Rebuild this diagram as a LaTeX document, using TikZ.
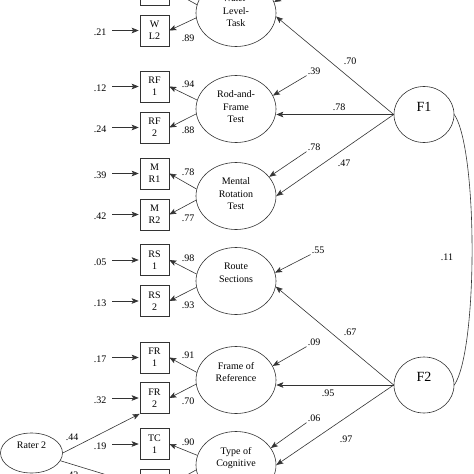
\documentclass[tikz,border=0pt]{standalone}
\usepackage{fontspec}
\setmainfont{Liberation Serif}
\usetikzlibrary{arrows.meta,shapes.geometric}
\begin{document}
\begin{tikzpicture}[x=1pt,y=-1pt,
  every node/.style={font=\fontsize{10}{12.5}\selectfont, text=black},
  ind/.style={draw=black!80, line width=0.6pt, rectangle, minimum width=29pt, minimum height=31pt, inner sep=0pt, align=center, font=\fontsize{10}{12}\selectfont},
  lat/.style={draw=black!80, line width=0.6pt, ellipse, minimum width=80pt, minimum height=67pt, inner sep=0pt, align=center},
  lat3/.style={lat, text depth=4pt},
  fac/.style={draw=black!80, line width=0.6pt, ellipse, minimum width=60pt, minimum height=56pt, inner sep=0pt, align=center, font=\fontsize{14}{12}\selectfont},
  num/.style={inner sep=1pt},
  arr/.style={-{Stealth[length=7pt,width=5.5pt,inset=1.5pt]}, line width=0.6pt, draw=black!80},
  conn/.style={line width=0.6pt, draw=black!80},
]
\useasboundingbox (0,0) rectangle (474,474);
\clip (0,0) rectangle (474,474);

% observed indicators
\node[ind] (wl1) at (154.5,-10.5) {W\\L1};
\node[ind] (wl2) at (154.5,30.5) {W\\L2};
\node[ind] (rf1) at (154.5,86.5) {RF\\1};
\node[ind] (rf2) at (154.5,127.5) {RF\\2};
\node[ind] (mr1) at (154.5,173.5) {M\\R1};
\node[ind] (mr2) at (154.5,214.5) {M\\R2};
\node[ind] (rs1) at (154.5,260) {RS\\1};
\node[ind] (rs2) at (154.5,301) {RS\\2};
\node[ind] (fr1) at (154.5,357.5) {FR\\1};
\node[ind] (fr2) at (154.5,398) {FR\\2};
\node[ind] (tc1) at (154.5,444) {TC\\1};
\node[ind] (tc2) at (154.5,485) {TC\\2};

% error terms
\node[num] (ewl2) at (100,32.5) {.21};
\node[num] (erf1) at (100,88.5) {.12};
\node[num] (erf2) at (100,129.5) {.24};
\node[num] (emr1) at (100,175.5) {.39};
\node[num] (emr2) at (100,216.5) {.42};
\node[num] (ers1) at (100,262) {.05};
\node[num] (ers2) at (100,303) {.13};
\node[num] (efr1) at (100,359.5) {.17};
\node[num] (efr2) at (100,400) {.32};
\node[num] (etc1) at (100,446) {.19};
\foreach \b in {wl2,rf1,rf2,mr1,mr2,rs1,rs2,fr1,fr2,tc1}
  \draw[arr, shorten <=5pt, shorten >=1pt] (e\b.east |- \b.west) -- (\b.west);

% first-order latent variables
\node[lat3] (lt)  at (236,13)  {Water-\\Level-\\Task};
\node[lat3] (rod) at (236,109) {Rod-and-\\Frame\\Test};
\node[lat3] (mrt) at (236,196) {Mental\\Rotation\\Test};
\node[lat] (rte) at (236,281) {Route\\Sections\\\strut};
\node[lat] (fre) at (236,380) {Frame of\\Reference\\\strut};
\node[lat] (toc) at (236,465) {Type of\\Cognitive\\\strut};

% loadings
\draw[arr] (lt.168) -- (wl1.east);
\draw[arr] (lt.187) -- (wl2.east);
\draw[arr] (rod.167) -- (rf1.east);
\draw[arr] (rod.187) -- (rf2.east);
\draw[arr] (mrt.170) -- (mr1.east);
\draw[arr] (mrt.186) -- (mr2.east);
\draw[arr] (rte.170) -- (rs1.east);
\draw[arr] (rte.189) -- (rs2.east);
\draw[arr] (fre.169) -- (fr1.east);
\draw[arr] (fre.186) -- (fr2.east);
\draw[arr] (toc.166) -- (tc1.east);
\draw[arr] (toc.187) -- (tc2.east);

\node[num] (lwl2) at (188,38)  {.89};
\node[num] (lrf1) at (188,84)  {.94};
\node[num] (lrf2) at (188,130) {.88};
\node[num] (lmr1) at (188,172) {.78};
\node[num] (lmr2) at (188,218) {.77};
\node[num] (lrs1) at (188,258) {.98};
\node[num] (lrs2) at (188,305) {.93};
\node[num] (lfr1) at (188,355) {.91};
\node[num] (lfr2) at (188,401) {.70};
\node[num] (ltc1) at (188,442) {.90};

% second-order factors
\node[fac] (F1) at (424,114.5) {F1\\\strut};
\node[fac] (F2) at (424,385) {F2\\\strut};

\draw[arr] (F1.west) -- (lt.-5);
\draw[arr] (F1.west) -- (rod.east |- F1.west);
\draw[arr] (F1.west) -- (mrt.east);
\draw[arr] (F2.west) -- (rte.-8);
\draw[arr] (F2.west) -- (fre.east |- F2.west);
\draw[arr] (F2.west) -- (toc.east);

\node[num] (s1) at (350,61)  {.70};
\node[num] (s2) at (339,107) {.78};
\node[num] (s3) at (344,163) {.47};
\node[num] (s4) at (350,332) {.67};
\node[num] (s5) at (328,393) {.95};
\node[num] (s6) at (346,439) {.97};

% disturbances
\coordinate (dlt) at (310,-18);
\draw[arr] (dlt) -- (lt.16);
\node[num] (drod) at (314,71)  {.39};
\node[num] (dmrt) at (314,147) {.78};
\node[num] (drte) at (318,250) {.55};
\node[num] (dfre) at (314,342) {.09};
\node[num] (dtoc) at (314,418) {.06};
\draw[arr] (drod.south west) -- (rod.20);
\draw[arr] (dmrt.south west) -- (mrt.30);
\draw[arr] (drte.south west) -- (rte.12);
\draw[arr] (dfre.south west) -- (fre.21);
\draw[arr] (dtoc.south west) -- (toc.26);

% factor correlation
\draw[conn] (F1.east) .. controls (478,150) and (478,350) .. (F2.east);
\node[num] (r12) at (447,257) {.11};

% rater
\node[lat, minimum width=62pt, minimum height=40pt] (r2) at (31.5,453) {Rater 2\\\strut};
\draw[arr] (r2.east) -- (fr2.south west);
\draw[arr] (r2.-15) -- (tc2.west);
\node[num] (lr1) at (72,437) {.44};
\node[num] (lr2) at (72,475) {.42};
\end{tikzpicture}
\end{document}
